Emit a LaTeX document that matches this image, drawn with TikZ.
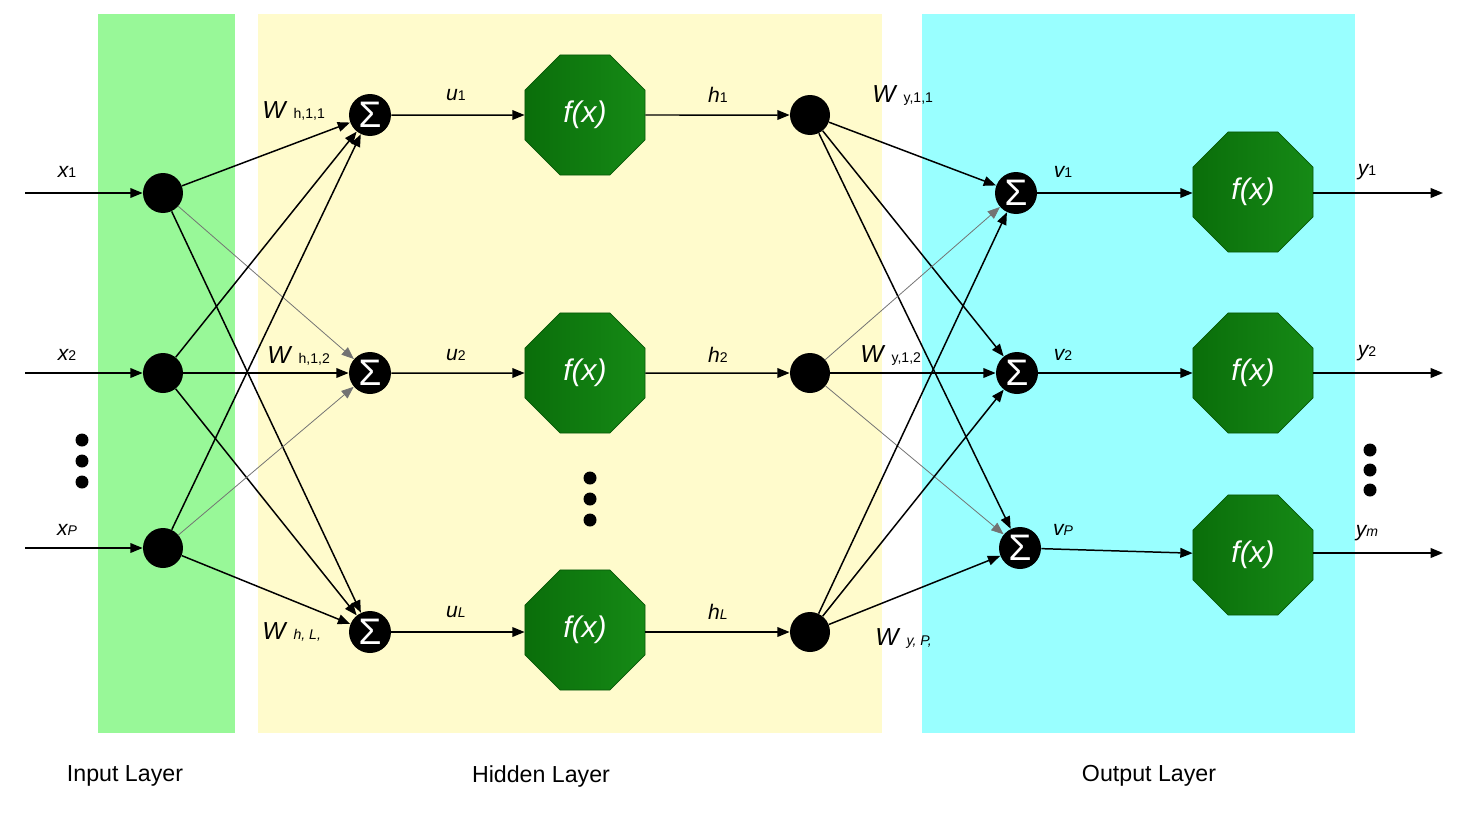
\documentclass[tikz,border=0pt]{standalone}
\usepackage{fontspec}
\setmainfont{Liberation Sans}
\usetikzlibrary{shapes.geometric,arrows.meta}
\definecolor{pgreen}{RGB}{152,248,152}
\definecolor{pyellow}{RGB}{255,251,204}
\definecolor{pcyan}{RGB}{153,255,255}
\definecolor{octL}{RGB}{10,110,10}
\definecolor{octR}{RGB}{22,138,22}
\begin{document}
\begin{tikzpicture}[x=0.02cm,y=-0.02cm,
  neuron/.style={circle,fill=black,minimum size=0.8cm,inner sep=0pt},
  sig/.style={circle,fill=black,minimum size=0.84cm,inner sep=0pt,text=white,font=\fontsize{21}{21}\selectfont},
  oct/.style={regular polygon,regular polygon sides=8,minimum size=2.6cm,inner sep=0pt,
     left color=octL,right color=octR,draw=octL!80!black,line width=0.4pt,
     text=white,font=\fontsize{17}{17}\selectfont\itshape},
  dot/.style={circle,fill=black,minimum size=0.26cm,inner sep=0pt},
  lab/.style={font=\fontsize{12}{12}\selectfont\itshape,inner sep=0pt},
  wlab/.style={font=\fontsize{11}{11}\selectfont\itshape,inner sep=0pt,anchor=west},
  layer/.style={font=\fontsize{13.2}{15}\selectfont,inner sep=0pt},
  conn/.style={line width=0.85pt,-{Triangle[length=7pt,width=5.5pt]}},
  thin/.style={line width=0.45pt,draw=black!55,-{Triangle[length=7pt,width=5.5pt]}}
]
\useasboundingbox (0,0) rectangle (1461,812);
% panels
\fill[pgreen] (98,14) rectangle (235,733);
\fill[pyellow] (258,14) rectangle (882,733);
\fill[pcyan] (922,14) rectangle (1355,733);
% layer names
\node[layer] (lin) at (125,776) {Input Layer};
\node[layer] (lhid) at (541,776) {Hidden Layer};
\node[layer] (lout) at (1149,776) {Output Layer};
% input nodes
\node[neuron] (i1) at (163,193) {};
\node[neuron] (i2) at (163,373) {};
\node[neuron] (i3) at (163,548) {};
\coordinate (s1) at (25,193);
\coordinate (s2) at (25,373);
\coordinate (s3) at (25,548);
\draw[conn] (s1) -- (i1);
\draw[conn] (s2) -- (i2);
\draw[conn] (s3) -- (i3);
\node[lab] (lx1) at (67,172) {x{\fontsize{8}{8}\selectfont\upshape 1}};
\node[lab] (lx2) at (67,355) {x{\fontsize{8}{8}\selectfont\upshape 2}};
\node[lab] (lx3) at (67,530) {x{\fontsize{8}{8}\selectfont P}};
\node[dot] (d1) at (82,440) {};
\node[dot] (d2) at (82,461) {};
\node[dot] (d3) at (82,482) {};
% hidden sums
\node[sig] (h1) at (370,115) {Σ};
\node[sig] (h2) at (370,373) {Σ};
\node[sig] (h3) at (370,632) {Σ};
% input to hidden
\draw[conn] (i1) -- (h1);
\draw[thin] (i1) -- (h2);
\draw[conn] (i1) -- (h3);
\draw[conn] (i2) -- (h1);
\draw[conn] (i2) -- (h2);
\draw[conn] (i2) -- (h3);
\draw[conn] (i3) -- (h1);
\draw[thin] (i3) -- (h2);
\draw[conn] (i3) -- (h3);
\node[wlab] (w1) at (262,111) {\fontsize{14}{14}\selectfont W\,{\fontsize{8}{8}\selectfont\upshape\ h,1,1}};
\node[wlab] (w2) at (267,356) {\fontsize{14}{14}\selectfont W\,{\fontsize{8}{8}\selectfont\upshape\ h,1,2}};
\node[wlab] (w3) at (262,632) {\fontsize{14}{14}\selectfont W\,{\fontsize{8}{8}\selectfont\ h, L,}};
% hidden activations
\node[oct] (f1) at (585,115) {f(x)};
\node[oct] (f2) at (585,373) {f(x)};
\node[oct] (f3) at (585,630) {f(x)};
\draw[conn] (h1) -- (f1);
\draw[conn] (h2) -- (f2);
\draw[conn] (h3) -- (f3.west |- h3);
\node[lab] (u1) at (456,95) {u{\fontsize{8}{8}\selectfont\upshape 1}};
\node[lab] (u2) at (456,355) {u{\fontsize{8}{8}\selectfont\upshape 2}};
\node[lab] (u3) at (456,612) {u{\fontsize{8}{8}\selectfont L}};
\node[dot] (hd1) at (590,478) {};
\node[dot] (hd2) at (590,499) {};
\node[dot] (hd3) at (590,520) {};
% hidden outputs
\node[neuron] (o1) at (810,115) {};
\node[neuron] (o2) at (810,373) {};
\node[neuron] (o3) at (810,632) {};
\draw[conn] (f1) -- (o1);
\draw[conn] (f2) -- (o2);
\draw[conn] (f3.east |- o3) -- (o3);
\node[lab] (hl1) at (718,95) {h{\fontsize{8}{8}\selectfont\upshape 1}};
\node[lab] (hl2) at (718,355) {h{\fontsize{8}{8}\selectfont\upshape 2}};
\node[lab] (hl3) at (718,612) {h{\fontsize{8}{8}\selectfont L}};
% output sums
\node[sig] (y1) at (1016,193) {Σ};
\node[sig] (y2) at (1017,373) {Σ};
\node[sig] (y3) at (1020,548) {Σ};
\draw[conn] (o1) -- (y1);
\draw[conn] (o1) -- (y2);
\draw[conn] (o1) -- (y3);
\draw[thin] (o2) -- (y1);
\draw[conn] (o2) -- (y2);
\draw[thin] (o2) -- (y3);
\draw[conn] (o3) -- (y1);
\draw[conn] (o3) -- (y2);
\draw[conn] (o3) -- (y3);
\node[wlab] (wy1) at (872,95) {\fontsize{14}{14}\selectfont W\,{\fontsize{8}{8}\selectfont\upshape\ y,1,1}};
\node[wlab] (wy2) at (860,355) {\fontsize{14}{14}\selectfont W\,{\fontsize{8}{8}\selectfont\upshape\ y,1,2}};
\node[wlab] (wy3) at (875,638) {\fontsize{14}{14}\selectfont W\,{\fontsize{8}{8}\selectfont\ y, P,}};
% output activations
\node[oct] (g1) at (1253,192) {f(x)};
\node[oct] (g2) at (1253,373) {f(x)};
\node[oct] (g3) at (1253,555) {f(x)};
\draw[conn] (y1) -- (g1.west |- y1);
\draw[conn] (y2) -- (g2.west |- y2);
\draw[conn] (y3) -- (g3);
\node[lab] (v1) at (1063,172) {v{\fontsize{8}{8}\selectfont\upshape 1}};
\node[lab] (v2) at (1063,355) {v{\fontsize{8}{8}\selectfont\upshape 2}};
\node[lab] (v3) at (1063,530) {v{\fontsize{8}{8}\selectfont P}};
\coordinate (e1) at (1443,193);
\coordinate (e2) at (1443,373);
\coordinate (e3) at (1443,553);
\draw[conn] (g1.east |- e1) -- (e1);
\draw[conn] (g2.east |- e2) -- (e2);
\draw[conn] (g3.east |- e3) -- (e3);
\node[lab] (ly1) at (1367,172) {y{\fontsize{8}{8}\selectfont\upshape 1}};
\node[lab] (ly2) at (1367,353) {y{\fontsize{8}{8}\selectfont\upshape 2}};
\node[lab] (ly3) at (1367,533) {y{\fontsize{8}{8}\selectfont m}};
\node[dot] (od1) at (1370,450) {};
\node[dot] (od2) at (1370,470) {};
\node[dot] (od3) at (1370,490) {};
\end{tikzpicture}
\end{document}
